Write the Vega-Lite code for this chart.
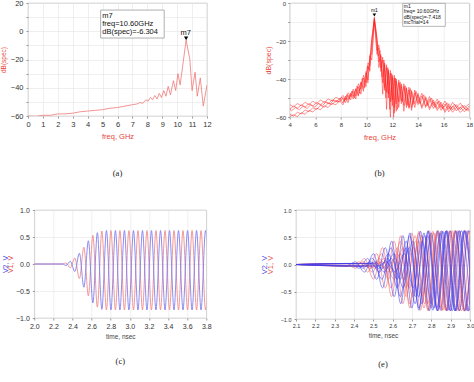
{
"$schema": "https://vega.github.io/schema/vega-lite/v6.json",
"padding": {"left": 0, "right": 0, "top": -2, "bottom": 0},
"background": "white",
"config": {
  "view": {"stroke": "#b5b5b5", "strokeWidth": 0.7},
  "axis": {"labelFont": "Liberation Sans", "titleFont": "Liberation Sans", "titleFontWeight": "normal", "gridColor": "#e4e4e4", "gridWidth": 0.6, "domain": false, "tickColor": "#999", "tickSize": 2, "labelColor": "#333", "labelPadding": 2, "labelFlush": false, "labelOverlap": false, "tickCount": 50},
  "title": {"font": "Liberation Serif", "fontSize": 8.5, "fontWeight": "normal", "color": "#222", "orient": "bottom", "anchor": "middle"}
},
"datasets": {
  "a": [
    {"f":0.0,"d":-60},{"f":0.5,"d":-60.2},{"f":1.0,"d":-59.5},{"f":1.5,"d":-59.5},{"f":2.0,"d":-58.5},{"f":2.5,"d":-58.5},{"f":3.0,"d":-58},{"f":3.5,"d":-57},{"f":4.0,"d":-56.5},{"f":4.5,"d":-56},{"f":5.0,"d":-55.5},{"f":5.5,"d":-54.5},{"f":6.0,"d":-54},{"f":6.5,"d":-53},{"f":7.0,"d":-52},{"f":7.3,"d":-51.5},{"f":7.5,"d":-50.5},{"f":7.7,"d":-51},{"f":7.9,"d":-48.5},{"f":8.05,"d":-49.5},{"f":8.2,"d":-47},{"f":8.35,"d":-48.5},{"f":8.5,"d":-45.5},{"f":8.65,"d":-48},{"f":8.8,"d":-44},{"f":8.95,"d":-47},{"f":9.1,"d":-42},{"f":9.25,"d":-46},{"f":9.4,"d":-39},{"f":9.55,"d":-45},{"f":9.75,"d":-35},{"f":9.9,"d":-42},{"f":10.05,"d":-30},{"f":10.2,"d":-38},{"f":10.6,"d":-6.3},{"f":10.85,"d":-20},{"f":11.0,"d":-42},{"f":11.2,"d":-29},{"f":11.35,"d":-46},{"f":11.55,"d":-33},{"f":11.75,"d":-53},{"f":12.0,"d":-38}
  ],
  "b": [
    {"k":1,"f":4.0,"d":-53.5},{"k":1,"f":4.3,"d":-54.7},{"k":1,"f":4.6,"d":-52.9},{"k":1,"f":4.9,"d":-54.1},{"k":1,"f":5.2,"d":-52.3},{"k":1,"f":5.5,"d":-53.5},{"k":1,"f":5.8,"d":-51.7},{"k":1,"f":6.1,"d":-52.9},{"k":1,"f":6.4,"d":-51.1},{"k":1,"f":6.7,"d":-52.3},{"k":1,"f":7.0,"d":-50.5},{"k":1,"f":7.3,"d":-51.5},{"k":1,"f":7.6,"d":-49.6},{"k":1,"f":7.9,"d":-50.7},{"k":1,"f":8.15,"d":-48.6},{"k":1,"f":8.35,"d":-51.0},{"k":1,"f":8.55,"d":-47.2},{"k":1,"f":8.75,"d":-49.3},{"k":1,"f":8.95,"d":-45.3},{"k":1,"f":9.15,"d":-49.0},{"k":1,"f":9.35,"d":-42.5},{"k":1,"f":9.55,"d":-45.5},{"k":1,"f":9.75,"d":-38},{"k":1,"f":9.95,"d":-42},{"k":1,"f":10.1,"d":-31.5},{"k":1,"f":10.25,"d":-33},{"k":1,"f":10.4,"d":-19},{"k":1,"f":10.6,"d":-7.4},{"k":1,"f":10.8,"d":-25},{"k":1,"f":10.95,"d":-22},{"k":1,"f":11.1,"d":-34},{"k":1,"f":11.25,"d":-28.5},{"k":1,"f":11.4,"d":-44.5},{"k":1,"f":11.55,"d":-32.5},{"k":1,"f":11.7,"d":-48},{"k":1,"f":11.85,"d":-35.5},{"k":1,"f":12.0,"d":-51},{"k":1,"f":12.15,"d":-38},{"k":1,"f":12.3,"d":-53},{"k":1,"f":12.5,"d":-40.5},{"k":1,"f":12.7,"d":-51.5},{"k":1,"f":12.9,"d":-42.5},{"k":1,"f":13.1,"d":-53.5},{"k":1,"f":13.3,"d":-44.3},{"k":1,"f":13.5,"d":-55},{"k":1,"f":13.75,"d":-45.8},{"k":1,"f":14.0,"d":-52.5},{"k":1,"f":14.3,"d":-47.5},{"k":1,"f":14.6,"d":-54.3},{"k":1,"f":14.9,"d":-49.2},{"k":1,"f":15.2,"d":-54},{"k":1,"f":15.5,"d":-50.6},{"k":1,"f":15.8,"d":-55.2},{"k":1,"f":16.1,"d":-51.6},{"k":1,"f":16.4,"d":-56},{"k":1,"f":16.7,"d":-52.3},{"k":1,"f":17.0,"d":-55},{"k":1,"f":17.3,"d":-52.7},{"k":1,"f":17.6,"d":-55.4},{"k":1,"f":18.0,"d":-53},
    {"k":2,"f":4.0,"d":-56.0},{"k":2,"f":4.3,"d":-54.2},{"k":2,"f":4.6,"d":-55.4},{"k":2,"f":4.9,"d":-53.6},{"k":2,"f":5.2,"d":-54.8},{"k":2,"f":5.5,"d":-53.0},{"k":2,"f":5.8,"d":-54.2},{"k":2,"f":6.1,"d":-52.4},{"k":2,"f":6.4,"d":-53.6},{"k":2,"f":6.7,"d":-51.8},{"k":2,"f":7.0,"d":-53.0},{"k":2,"f":7.3,"d":-51.0},{"k":2,"f":7.6,"d":-52.1},{"k":2,"f":7.9,"d":-50.2},{"k":2,"f":8.15,"d":-52.6},{"k":2,"f":8.35,"d":-49.0},{"k":2,"f":8.55,"d":-51.2},{"k":2,"f":8.75,"d":-47.3},{"k":2,"f":8.95,"d":-49.3},{"k":2,"f":9.15,"d":-45.0},{"k":2,"f":9.35,"d":-48.5},{"k":2,"f":9.55,"d":-41.5},{"k":2,"f":9.75,"d":-45},{"k":2,"f":9.95,"d":-36},{"k":2,"f":10.1,"d":-40.5},{"k":2,"f":10.25,"d":-27},{"k":2,"f":10.4,"d":-27},{"k":2,"f":10.6,"d":-8.5},{"k":2,"f":10.8,"d":-18},{"k":2,"f":10.95,"d":-31},{"k":2,"f":11.1,"d":-27},{"k":2,"f":11.25,"d":-42},{"k":2,"f":11.4,"d":-31.5},{"k":2,"f":11.55,"d":-47},{"k":2,"f":11.7,"d":-35},{"k":2,"f":11.85,"d":-52},{"k":2,"f":12.0,"d":-38},{"k":2,"f":12.15,"d":-55},{"k":2,"f":12.3,"d":-40},{"k":2,"f":12.5,"d":-52},{"k":2,"f":12.7,"d":-42.5},{"k":2,"f":12.9,"d":-54},{"k":2,"f":13.1,"d":-44.5},{"k":2,"f":13.3,"d":-55},{"k":2,"f":13.5,"d":-46},{"k":2,"f":13.75,"d":-53},{"k":2,"f":14.0,"d":-47.5},{"k":2,"f":14.3,"d":-54.5},{"k":2,"f":14.6,"d":-49.3},{"k":2,"f":14.9,"d":-55.2},{"k":2,"f":15.2,"d":-51},{"k":2,"f":15.5,"d":-55.6},{"k":2,"f":15.8,"d":-52.2},{"k":2,"f":16.1,"d":-56.6},{"k":2,"f":16.4,"d":-53},{"k":2,"f":16.7,"d":-56.3},{"k":2,"f":17.0,"d":-53.5},{"k":2,"f":17.3,"d":-56.2},{"k":2,"f":17.6,"d":-53.9},{"k":2,"f":18.0,"d":-56.5},
    {"k":3,"f":4.0,"d":-58.5},{"k":3,"f":4.3,"d":-59.5},{"k":3,"f":4.6,"d":-57.5},{"k":3,"f":4.9,"d":-58.4},{"k":3,"f":5.2,"d":-56.3},{"k":3,"f":5.5,"d":-57.2},{"k":3,"f":5.8,"d":-55.1},{"k":3,"f":6.1,"d":-56.0},{"k":3,"f":6.4,"d":-53.9},{"k":3,"f":6.7,"d":-54.8},{"k":3,"f":7.0,"d":-52.7},{"k":3,"f":7.3,"d":-53.5},{"k":3,"f":7.6,"d":-51.3},{"k":3,"f":7.9,"d":-52.1},{"k":3,"f":8.15,"d":-49.8},{"k":3,"f":8.35,"d":-52.5},{"k":3,"f":8.55,"d":-48.5},{"k":3,"f":8.75,"d":-51},{"k":3,"f":8.95,"d":-46.5},{"k":3,"f":9.15,"d":-50.5},{"k":3,"f":9.35,"d":-44},{"k":3,"f":9.55,"d":-48},{"k":3,"f":9.75,"d":-39.5},{"k":3,"f":9.95,"d":-44},{"k":3,"f":10.1,"d":-33},{"k":3,"f":10.25,"d":-36},{"k":3,"f":10.4,"d":-21},{"k":3,"f":10.6,"d":-9.0},{"k":3,"f":10.8,"d":-27},{"k":3,"f":10.95,"d":-23.5},{"k":3,"f":11.1,"d":-36},{"k":3,"f":11.25,"d":-30},{"k":3,"f":11.4,"d":-46},{"k":3,"f":11.55,"d":-34},{"k":3,"f":11.7,"d":-50},{"k":3,"f":11.85,"d":-37},{"k":3,"f":12.0,"d":-54},{"k":3,"f":12.15,"d":-39.5},{"k":3,"f":12.3,"d":-57},{"k":3,"f":12.5,"d":-42},{"k":3,"f":12.7,"d":-53},{"k":3,"f":12.9,"d":-44},{"k":3,"f":13.1,"d":-55},{"k":3,"f":13.3,"d":-45.8},{"k":3,"f":13.5,"d":-56.5},{"k":3,"f":13.75,"d":-47.3},{"k":3,"f":14.0,"d":-53.5},{"k":3,"f":14.3,"d":-49},{"k":3,"f":14.6,"d":-55},{"k":3,"f":14.9,"d":-50.7},{"k":3,"f":15.2,"d":-55.5},{"k":3,"f":15.5,"d":-52},{"k":3,"f":15.8,"d":-56.5},{"k":3,"f":16.1,"d":-53.2},{"k":3,"f":16.4,"d":-57.3},{"k":3,"f":16.7,"d":-54.2},{"k":3,"f":17.0,"d":-56.8},{"k":3,"f":17.3,"d":-54.7},{"k":3,"f":17.6,"d":-57.2},{"k":3,"f":18.0,"d":-55.3},
    {"k":4,"f":4.0,"d":-59.8},{"k":4,"f":4.3,"d":-58.8},{"k":4,"f":4.6,"d":-59.8},{"k":4,"f":4.9,"d":-57.7},{"k":4,"f":5.2,"d":-58.6},{"k":4,"f":5.5,"d":-56.5},{"k":4,"f":5.8,"d":-57.4},{"k":4,"f":6.1,"d":-55.3},{"k":4,"f":6.4,"d":-56.2},{"k":4,"f":6.7,"d":-54.1},{"k":4,"f":7.0,"d":-55.0},{"k":4,"f":7.3,"d":-52.8},{"k":4,"f":7.6,"d":-53.6},{"k":4,"f":7.9,"d":-51.4},{"k":4,"f":8.15,"d":-53.6},{"k":4,"f":8.35,"d":-50},{"k":4,"f":8.55,"d":-52.5},{"k":4,"f":8.75,"d":-48},{"k":4,"f":8.95,"d":-50.5},{"k":4,"f":9.15,"d":-45.5},{"k":4,"f":9.35,"d":-49},{"k":4,"f":9.55,"d":-42},{"k":4,"f":9.75,"d":-46.5},{"k":4,"f":9.95,"d":-37},{"k":4,"f":10.1,"d":-42},{"k":4,"f":10.25,"d":-28},{"k":4,"f":10.4,"d":-30},{"k":4,"f":10.6,"d":-10},{"k":4,"f":10.8,"d":-19.5},{"k":4,"f":10.95,"d":-34},{"k":4,"f":11.1,"d":-28},{"k":4,"f":11.25,"d":-48},{"k":4,"f":11.4,"d":-32.5},{"k":4,"f":11.55,"d":-56},{"k":4,"f":11.7,"d":-36},{"k":4,"f":11.85,"d":-60},{"k":4,"f":12.0,"d":-39},{"k":4,"f":12.15,"d":-58},{"k":4,"f":12.3,"d":-41},{"k":4,"f":12.5,"d":-55},{"k":4,"f":12.7,"d":-43.5},{"k":4,"f":12.9,"d":-57},{"k":4,"f":13.1,"d":-45},{"k":4,"f":13.3,"d":-55.5},{"k":4,"f":13.5,"d":-46.8},{"k":4,"f":13.75,"d":-55},{"k":4,"f":14.0,"d":-48.5},{"k":4,"f":14.3,"d":-55.5},{"k":4,"f":14.6,"d":-50.3},{"k":4,"f":14.9,"d":-56.2},{"k":4,"f":15.2,"d":-52},{"k":4,"f":15.5,"d":-56.6},{"k":4,"f":15.8,"d":-53.4},{"k":4,"f":16.1,"d":-57.6},{"k":4,"f":16.4,"d":-54.3},{"k":4,"f":16.7,"d":-57.5},{"k":4,"f":17.0,"d":-55},{"k":4,"f":17.3,"d":-57.6},{"k":4,"f":17.6,"d":-55.5},{"k":4,"f":18.0,"d":-57},
    {"k":5,"f":4.0,"d":-55.5},{"k":5,"f":4.15,"d":-56.8},{"k":5,"f":4.45,"d":-55.0},{"k":5,"f":4.75,"d":-56.2},{"k":5,"f":5.05,"d":-54.3},{"k":5,"f":5.35,"d":-55.5},{"k":5,"f":5.65,"d":-53.6},{"k":5,"f":5.95,"d":-54.8},{"k":5,"f":6.25,"d":-52.9},{"k":5,"f":6.55,"d":-54.0},{"k":5,"f":6.85,"d":-52.0},{"k":5,"f":7.15,"d":-53.2},{"k":5,"f":7.45,"d":-51.0},{"k":5,"f":7.75,"d":-52.2},{"k":5,"f":8.05,"d":-49.6},{"k":5,"f":8.25,"d":-51.8},{"k":5,"f":8.45,"d":-48.2},{"k":5,"f":8.65,"d":-50.5},{"k":5,"f":8.85,"d":-46.3},{"k":5,"f":9.05,"d":-50},{"k":5,"f":9.25,"d":-43.7},{"k":5,"f":9.45,"d":-47.5},{"k":5,"f":9.65,"d":-39.7},{"k":5,"f":9.85,"d":-44.5},{"k":5,"f":10.05,"d":-33.5},{"k":5,"f":10.2,"d":-35},{"k":5,"f":10.35,"d":-22},{"k":5,"f":10.6,"d":-8.0},{"k":5,"f":10.75,"d":-15.5},{"k":5,"f":10.9,"d":-28},{"k":5,"f":11.05,"d":-25},{"k":5,"f":11.2,"d":-39},{"k":5,"f":11.35,"d":-30},{"k":5,"f":11.5,"d":-50},{"k":5,"f":11.65,"d":-34},{"k":5,"f":11.8,"d":-56},{"k":5,"f":11.95,"d":-37},{"k":5,"f":12.1,"d":-60},{"k":5,"f":12.25,"d":-39.5},{"k":5,"f":12.4,"d":-56},{"k":5,"f":12.6,"d":-41.5},{"k":5,"f":12.8,"d":-52},{"k":5,"f":13.0,"d":-43.5},{"k":5,"f":13.2,"d":-54},{"k":5,"f":13.4,"d":-45},{"k":5,"f":13.6,"d":-53.5},{"k":5,"f":13.85,"d":-46.5},{"k":5,"f":14.15,"d":-53},{"k":5,"f":14.45,"d":-48.3},{"k":5,"f":14.75,"d":-54},{"k":5,"f":15.05,"d":-50},{"k":5,"f":15.35,"d":-55},{"k":5,"f":15.65,"d":-51.5},{"k":5,"f":15.95,"d":-55.8},{"k":5,"f":16.25,"d":-52.5},{"k":5,"f":16.55,"d":-56},{"k":5,"f":16.85,"d":-53.3},{"k":5,"f":17.15,"d":-56},{"k":5,"f":17.45,"d":-53.8},{"k":5,"f":17.75,"d":-56.3},{"k":5,"f":18.0,"d":-54}
  ],
  "c1": [
    {"t":2.0,"v":0},{"t":2.3,"v":0},{"t":2.330,"v":0.02},{"t":2.377,"v":-0.07},{"t":2.424,"v":0.11},{"t":2.472,"v":-0.27},{"t":2.519,"v":0.31},{"t":2.566,"v":-0.59},{"t":2.613,"v":0.53},{"t":2.660,"v":-0.80},{"t":2.707,"v":0.61},{"t":2.755,"v":-0.85},{"t":2.802,"v":0.62},{"t":2.849,"v":-0.85},{"t":2.896,"v":0.62},{"t":2.943,"v":-0.85},{"t":2.990,"v":0.62},{"t":3.038,"v":-0.85},{"t":3.085,"v":0.62},{"t":3.132,"v":-0.85},{"t":3.179,"v":0.62},{"t":3.226,"v":-0.85},{"t":3.273,"v":0.62},{"t":3.321,"v":-0.85},{"t":3.368,"v":0.62},{"t":3.415,"v":-0.85},{"t":3.462,"v":0.62},{"t":3.509,"v":-0.85},{"t":3.556,"v":0.62},{"t":3.604,"v":-0.85},{"t":3.651,"v":0.62},{"t":3.698,"v":-0.85},{"t":3.745,"v":0.62},{"t":3.792,"v":-0.85},{"t":3.839,"v":0.62}
  ],
  "c2": [
    {"t":2.0,"v":0},{"t":2.3,"v":0},{"t":2.330,"v":-0.03},{"t":2.377,"v":0.05},{"t":2.424,"v":-0.14},{"t":2.472,"v":0.20},{"t":2.519,"v":-0.43},{"t":2.566,"v":0.43},{"t":2.613,"v":-0.72},{"t":2.660,"v":0.58},{"t":2.707,"v":-0.84},{"t":2.755,"v":0.62},{"t":2.802,"v":-0.85},{"t":2.849,"v":0.62},{"t":2.896,"v":-0.85},{"t":2.943,"v":0.62},{"t":2.990,"v":-0.85},{"t":3.038,"v":0.62},{"t":3.085,"v":-0.85},{"t":3.132,"v":0.62},{"t":3.179,"v":-0.85},{"t":3.226,"v":0.62},{"t":3.273,"v":-0.85},{"t":3.321,"v":0.62},{"t":3.368,"v":-0.85},{"t":3.415,"v":0.62},{"t":3.462,"v":-0.85},{"t":3.509,"v":0.62},{"t":3.556,"v":-0.85},{"t":3.604,"v":0.62},{"t":3.651,"v":-0.85},{"t":3.698,"v":0.62},{"t":3.745,"v":-0.85},{"t":3.792,"v":0.62},{"t":3.839,"v":-0.85}
  ],
  "e1": [
    {"r":1,"t":2.1,"v":0},{"r":1,"t":2.360,"v":0.02},{"r":1,"t":2.407,"v":-0.07},{"r":1,"t":2.454,"v":0.11},{"r":1,"t":2.501,"v":-0.27},{"r":1,"t":2.548,"v":0.31},{"r":1,"t":2.595,"v":-0.59},{"r":1,"t":2.642,"v":0.53},{"r":1,"t":2.689,"v":-0.80},{"r":1,"t":2.736,"v":0.61},{"r":1,"t":2.783,"v":-0.85},{"r":1,"t":2.830,"v":0.62},{"r":1,"t":2.877,"v":-0.85},{"r":1,"t":2.924,"v":0.62},{"r":1,"t":2.971,"v":-0.85},{"r":1,"t":3.018,"v":0.62},
    {"r":2,"t":2.1,"v":0},{"r":2,"t":2.400,"v":-0.03},{"r":2,"t":2.448,"v":0.05},{"r":2,"t":2.496,"v":-0.14},{"r":2,"t":2.544,"v":0.20},{"r":2,"t":2.592,"v":-0.43},{"r":2,"t":2.640,"v":0.43},{"r":2,"t":2.688,"v":-0.72},{"r":2,"t":2.736,"v":0.58},{"r":2,"t":2.784,"v":-0.84},{"r":2,"t":2.832,"v":0.62},{"r":2,"t":2.880,"v":-0.85},{"r":2,"t":2.928,"v":0.62},{"r":2,"t":2.976,"v":-0.85},{"r":2,"t":3.024,"v":0.62},
    {"r":3,"t":2.1,"v":0},{"r":3,"t":2.440,"v":0.02},{"r":3,"t":2.486,"v":-0.07},{"r":3,"t":2.532,"v":0.11},{"r":3,"t":2.578,"v":-0.27},{"r":3,"t":2.624,"v":0.31},{"r":3,"t":2.670,"v":-0.59},{"r":3,"t":2.716,"v":0.53},{"r":3,"t":2.762,"v":-0.80},{"r":3,"t":2.808,"v":0.61},{"r":3,"t":2.854,"v":-0.85},{"r":3,"t":2.900,"v":0.62},{"r":3,"t":2.946,"v":-0.85},{"r":3,"t":2.992,"v":0.62},{"r":3,"t":3.038,"v":-0.85},
    {"r":4,"t":2.1,"v":0},{"r":4,"t":2.480,"v":-0.03},{"r":4,"t":2.528,"v":0.05},{"r":4,"t":2.575,"v":-0.14},{"r":4,"t":2.623,"v":0.20},{"r":4,"t":2.670,"v":-0.43},{"r":4,"t":2.718,"v":0.43},{"r":4,"t":2.765,"v":-0.72},{"r":4,"t":2.813,"v":0.58},{"r":4,"t":2.860,"v":-0.84},{"r":4,"t":2.908,"v":0.62},{"r":4,"t":2.955,"v":-0.85},{"r":4,"t":3.003,"v":0.62},
    {"r":5,"t":2.1,"v":0},{"r":5,"t":2.520,"v":0.02},{"r":5,"t":2.567,"v":-0.07},{"r":5,"t":2.613,"v":0.11},{"r":5,"t":2.660,"v":-0.27},{"r":5,"t":2.706,"v":0.31},{"r":5,"t":2.753,"v":-0.59},{"r":5,"t":2.799,"v":0.53},{"r":5,"t":2.846,"v":-0.80},{"r":5,"t":2.892,"v":0.61},{"r":5,"t":2.939,"v":-0.85},{"r":5,"t":2.985,"v":0.62},{"r":5,"t":3.032,"v":-0.85},
    {"r":6,"t":2.1,"v":0},{"r":6,"t":2.380,"v":-0.03},{"r":6,"t":2.426,"v":0.05},{"r":6,"t":2.471,"v":-0.14},{"r":6,"t":2.517,"v":0.20},{"r":6,"t":2.562,"v":-0.43},{"r":6,"t":2.608,"v":0.43},{"r":6,"t":2.653,"v":-0.72},{"r":6,"t":2.699,"v":0.58},{"r":6,"t":2.744,"v":-0.84},{"r":6,"t":2.790,"v":0.62},{"r":6,"t":2.835,"v":-0.85},{"r":6,"t":2.881,"v":0.62},{"r":6,"t":2.926,"v":-0.85},{"r":6,"t":2.972,"v":0.62},{"r":6,"t":3.017,"v":-0.85},
    {"r":7,"t":2.1,"v":0},{"r":7,"t":2.460,"v":0.02},{"r":7,"t":2.509,"v":-0.07},{"r":7,"t":2.557,"v":0.11},{"r":7,"t":2.606,"v":-0.27},{"r":7,"t":2.654,"v":0.31},{"r":7,"t":2.703,"v":-0.59},{"r":7,"t":2.751,"v":0.53},{"r":7,"t":2.800,"v":-0.80},{"r":7,"t":2.848,"v":0.61},{"r":7,"t":2.897,"v":-0.85},{"r":7,"t":2.945,"v":0.62},{"r":7,"t":2.994,"v":-0.85},{"r":7,"t":3.042,"v":0.62},
    {"r":8,"t":2.1,"v":0},{"r":8,"t":2.500,"v":-0.03},{"r":8,"t":2.547,"v":0.05},{"r":8,"t":2.594,"v":-0.14},{"r":8,"t":2.640,"v":0.20},{"r":8,"t":2.687,"v":-0.43},{"r":8,"t":2.734,"v":0.43},{"r":8,"t":2.781,"v":-0.72},{"r":8,"t":2.828,"v":0.58},{"r":8,"t":2.874,"v":-0.84},{"r":8,"t":2.921,"v":0.62},{"r":8,"t":2.968,"v":-0.85},{"r":8,"t":3.015,"v":0.62}
  ],
  "e2": [
    {"r":1,"t":2.1,"v":0},{"r":1,"t":2.360,"v":-0.03},{"r":1,"t":2.407,"v":0.05},{"r":1,"t":2.454,"v":-0.14},{"r":1,"t":2.501,"v":0.20},{"r":1,"t":2.548,"v":-0.43},{"r":1,"t":2.595,"v":0.43},{"r":1,"t":2.642,"v":-0.72},{"r":1,"t":2.689,"v":0.58},{"r":1,"t":2.736,"v":-0.84},{"r":1,"t":2.783,"v":0.62},{"r":1,"t":2.830,"v":-0.85},{"r":1,"t":2.877,"v":0.62},{"r":1,"t":2.924,"v":-0.85},{"r":1,"t":2.971,"v":0.62},{"r":1,"t":3.018,"v":-0.85},
    {"r":2,"t":2.1,"v":0},{"r":2,"t":2.400,"v":0.02},{"r":2,"t":2.448,"v":-0.07},{"r":2,"t":2.496,"v":0.11},{"r":2,"t":2.544,"v":-0.27},{"r":2,"t":2.592,"v":0.31},{"r":2,"t":2.640,"v":-0.59},{"r":2,"t":2.688,"v":0.53},{"r":2,"t":2.736,"v":-0.80},{"r":2,"t":2.784,"v":0.61},{"r":2,"t":2.832,"v":-0.85},{"r":2,"t":2.880,"v":0.62},{"r":2,"t":2.928,"v":-0.85},{"r":2,"t":2.976,"v":0.62},{"r":2,"t":3.024,"v":-0.85},
    {"r":3,"t":2.1,"v":0},{"r":3,"t":2.440,"v":-0.03},{"r":3,"t":2.486,"v":0.05},{"r":3,"t":2.532,"v":-0.14},{"r":3,"t":2.578,"v":0.20},{"r":3,"t":2.624,"v":-0.43},{"r":3,"t":2.670,"v":0.43},{"r":3,"t":2.716,"v":-0.72},{"r":3,"t":2.762,"v":0.58},{"r":3,"t":2.808,"v":-0.84},{"r":3,"t":2.854,"v":0.62},{"r":3,"t":2.900,"v":-0.85},{"r":3,"t":2.946,"v":0.62},{"r":3,"t":2.992,"v":-0.85},{"r":3,"t":3.038,"v":0.62},
    {"r":4,"t":2.1,"v":0},{"r":4,"t":2.480,"v":0.02},{"r":4,"t":2.528,"v":-0.07},{"r":4,"t":2.575,"v":0.11},{"r":4,"t":2.623,"v":-0.27},{"r":4,"t":2.670,"v":0.31},{"r":4,"t":2.718,"v":-0.59},{"r":4,"t":2.765,"v":0.53},{"r":4,"t":2.813,"v":-0.80},{"r":4,"t":2.860,"v":0.61},{"r":4,"t":2.908,"v":-0.85},{"r":4,"t":2.955,"v":0.62},{"r":4,"t":3.003,"v":-0.85},
    {"r":5,"t":2.1,"v":0},{"r":5,"t":2.520,"v":-0.03},{"r":5,"t":2.567,"v":0.05},{"r":5,"t":2.613,"v":-0.14},{"r":5,"t":2.660,"v":0.20},{"r":5,"t":2.706,"v":-0.43},{"r":5,"t":2.753,"v":0.43},{"r":5,"t":2.799,"v":-0.72},{"r":5,"t":2.846,"v":0.58},{"r":5,"t":2.892,"v":-0.84},{"r":5,"t":2.939,"v":0.62},{"r":5,"t":2.985,"v":-0.85},{"r":5,"t":3.032,"v":0.62},
    {"r":6,"t":2.1,"v":0},{"r":6,"t":2.380,"v":0.02},{"r":6,"t":2.426,"v":-0.07},{"r":6,"t":2.471,"v":0.11},{"r":6,"t":2.517,"v":-0.27},{"r":6,"t":2.562,"v":0.31},{"r":6,"t":2.608,"v":-0.59},{"r":6,"t":2.653,"v":0.53},{"r":6,"t":2.699,"v":-0.80},{"r":6,"t":2.744,"v":0.61},{"r":6,"t":2.790,"v":-0.85},{"r":6,"t":2.835,"v":0.62},{"r":6,"t":2.881,"v":-0.85},{"r":6,"t":2.926,"v":0.62},{"r":6,"t":2.972,"v":-0.85},{"r":6,"t":3.017,"v":0.62},
    {"r":7,"t":2.1,"v":0},{"r":7,"t":2.460,"v":-0.03},{"r":7,"t":2.509,"v":0.05},{"r":7,"t":2.557,"v":-0.14},{"r":7,"t":2.606,"v":0.20},{"r":7,"t":2.654,"v":-0.43},{"r":7,"t":2.703,"v":0.43},{"r":7,"t":2.751,"v":-0.72},{"r":7,"t":2.800,"v":0.58},{"r":7,"t":2.848,"v":-0.84},{"r":7,"t":2.897,"v":0.62},{"r":7,"t":2.945,"v":-0.85},{"r":7,"t":2.994,"v":0.62},{"r":7,"t":3.042,"v":-0.85},
    {"r":8,"t":2.1,"v":0},{"r":8,"t":2.500,"v":0.02},{"r":8,"t":2.547,"v":-0.07},{"r":8,"t":2.594,"v":0.11},{"r":8,"t":2.640,"v":-0.27},{"r":8,"t":2.687,"v":0.31},{"r":8,"t":2.734,"v":-0.59},{"r":8,"t":2.781,"v":0.53},{"r":8,"t":2.828,"v":-0.80},{"r":8,"t":2.874,"v":0.61},{"r":8,"t":2.921,"v":-0.85},{"r":8,"t":2.968,"v":0.62},{"r":8,"t":3.015,"v":-0.85}
  ]
},
"spacing": 27,
"vconcat": [
  {
    "hconcat": [
      {
        "width": 179, "height": 113,
        "title": {"text": "(a)", "offset": 29},
        "layer": [
          {"data": {"name": "a"}, "mark": {"type": "line", "color": "#f07878", "strokeWidth": 0.8, "clip": true},
           "encoding": {
             "x": {"field": "f", "type": "quantitative", "scale": {"domain": [0, 12], "nice": false, "zero": false},
                   "axis": {"values": [0,1,2,3,4,5,6,7,8,9,10,11,12], "format": "d", "tickCount": 50, "labelOverlap": false, "title": "freq, GHz", "titleColor": "#e8453c", "titleFontSize": 7.5, "labelFontSize": 7.5, "titlePadding": 5}},
             "y": {"field": "d", "type": "quantitative", "scale": {"domain": [-60, 20], "nice": false, "zero": false},
                   "axis": {"values": [-60,-50,-40,-30,-20,-10,0,10,20], "format": "d", "tickCount": 50, "labelOverlap": false, "labelExpr": "datum.value % 20 === 0 ? datum.label : ''", "title": "dB(spec)", "titleColor": "#e8453c", "titleFontSize": 6.5, "labelFontSize": 7.5, "labelPadding": 3, "titlePadding": 3.5}}
           }},
          {"data": {"values": [{"f": 4.87, "f2": 9.13, "d": 15, "d2": -4.8}]},
           "mark": {"type": "rect", "fill": "white", "stroke": "#9a9a9a", "strokeWidth": 0.8},
           "encoding": {"x": {"field": "f", "type": "quantitative"}, "x2": {"field": "f2"}, "y": {"field": "d", "type": "quantitative"}, "y2": {"field": "d2"}}},
          {"data": {"values": [{"f": 4.98, "d": 11.0, "l": "m7"}, {"f": 4.98, "d": 5.1, "l": "freq=10.60GHz"}, {"f": 4.98, "d": -0.7, "l": "dB(spec)=-6.304"}]},
           "mark": {"type": "text", "align": "left", "baseline": "middle", "font": "Liberation Sans", "fontSize": 7.5, "color": "#111"},
           "encoding": {"x": {"field": "f", "type": "quantitative"}, "y": {"field": "d", "type": "quantitative"}, "text": {"field": "l"}}},
          {"data": {"values": [{"f": 10.6, "d": -5.0}]},
           "mark": {"type": "point", "shape": "triangle-down", "filled": true, "color": "#000", "size": 18, "opacity": 1},
           "encoding": {"x": {"field": "f", "type": "quantitative"}, "y": {"field": "d", "type": "quantitative"}}},
          {"data": {"values": [{"f": 10.58, "d": -1.2, "l": "m7"}]},
           "mark": {"type": "text", "align": "center", "baseline": "middle", "font": "Liberation Sans", "fontSize": 7.5, "color": "#111"},
           "encoding": {"x": {"field": "f", "type": "quantitative"}, "y": {"field": "d", "type": "quantitative"}, "text": {"field": "l"}}}
        ]
      },
      {
        "width": 179.6, "height": 114,
        "title": {"text": "(b)", "offset": 28},
        "layer": [
          {"data": {"name": "b"}, "mark": {"type": "line", "color": "#ff1a1a", "strokeWidth": 0.6, "opacity": 0.8, "clip": true},
           "encoding": {
             "x": {"field": "f", "type": "quantitative", "scale": {"domain": [4, 18], "nice": false, "zero": false},
                   "axis": {"values": [4,6,8,10,12,14,16,18], "format": "d", "tickCount": 50, "labelOverlap": false, "title": "freq, GHz", "titleColor": "#e8453c", "titleFontSize": 7.5, "labelFontSize": 6, "titlePadding": 6}},
             "y": {"field": "d", "type": "quantitative", "scale": {"domain": [-60, 0], "nice": false, "zero": false},
                   "axis": {"values": [-60,-50,-40,-30,-20,-10,0], "format": "d", "tickCount": 50, "labelOverlap": false, "labelExpr": "datum.value % 20 === 0 ? datum.label : ''", "title": "dB(spec)", "titleColor": "#e8453c", "titleFontSize": 7, "labelFontSize": 6, "labelPadding": 2, "titlePadding": 4}},
             "detail": {"field": "k", "type": "nominal"}
           }},
          {"data": {"values": [{"f": 12.81, "f2": 16.13, "d": -0.2, "d2": -12.3}]},
           "mark": {"type": "rect", "fill": "white", "stroke": "#9a9a9a", "strokeWidth": 0.7},
           "encoding": {"x": {"field": "f", "type": "quantitative"}, "x2": {"field": "f2"}, "y": {"field": "d", "type": "quantitative"}, "y2": {"field": "d2"}}},
          {"data": {"values": [{"f": 12.89, "d": -1.5, "l": "m1"}, {"f": 12.89, "d": -4.4, "l": "freq= 10.60GHz"}, {"f": 12.89, "d": -7.3, "l": "dB(spec)=-7.418"}, {"f": 12.89, "d": -10.2, "l": "mcTrial=14"}]},
           "mark": {"type": "text", "align": "left", "baseline": "middle", "font": "Liberation Sans", "fontSize": 5, "color": "#111"},
           "encoding": {"x": {"field": "f", "type": "quantitative"}, "y": {"field": "d", "type": "quantitative"}, "text": {"field": "l"}}},
          {"data": {"values": [{"f": 10.6, "d": -6.3}]},
           "mark": {"type": "point", "shape": "triangle-down", "filled": true, "color": "#000", "size": 12, "opacity": 1},
           "encoding": {"x": {"field": "f", "type": "quantitative"}, "y": {"field": "d", "type": "quantitative"}}},
          {"data": {"values": [{"f": 10.6, "d": -3.6, "l": "m1"}]},
           "mark": {"type": "text", "align": "center", "baseline": "middle", "font": "Liberation Sans", "fontSize": 5, "color": "#111"},
           "encoding": {"x": {"field": "f", "type": "quantitative"}, "y": {"field": "d", "type": "quantitative"}, "text": {"field": "l"}}}
        ]
      }
    ],
    "spacing": 51.7
  },
  {
    "hconcat": [
      {"width": 1, "height": 1, "view": {"stroke": null, "fill": null}, "data": {"values": []}, "mark": {"type": "point", "opacity": 0}},
      {
        "hconcat": [
          {
            "width": 172, "height": 108,
            "title": {"text": "(c)", "offset": 17},
            "layer": [
              {"data": {"name": "c1"}, "mark": {"type": "line", "color": "#f28b8b", "strokeWidth": 0.9, "interpolate": "monotone", "clip": true},
               "encoding": {
                 "x": {"field": "t", "type": "quantitative", "scale": {"domain": [2.0, 3.8], "nice": false, "zero": false},
                       "axis": {"values": [2.0,2.2,2.4,2.6,2.8,3.0,3.2,3.4,3.6,3.8], "tickCount": 50, "labelOverlap": false, "format": ".1f", "title": "time, nsec", "titleColor": "#444", "titleFontSize": 6.5, "labelFontSize": 7, "titlePadding": 4}},
                 "y": {"field": "v", "type": "quantitative", "scale": {"domain": [-1, 1], "nice": false, "zero": false},
                       "axis": {"values": [-1,-0.5,0,0.5,1], "tickCount": 50, "labelOverlap": false, "format": ".1f", "title": "V1, V", "titleColor": "#e84a4a", "titleFontSize": 7, "labelFontSize": 7, "labelPadding": 3, "titlePadding": 2}}
               }},
              {"data": {"name": "c2"}, "mark": {"type": "line", "color": "#7f7ff2", "strokeWidth": 0.9, "interpolate": "monotone", "clip": true},
               "encoding": {
                 "x": {"field": "t", "type": "quantitative"},
                 "y": {"field": "v", "type": "quantitative",
                       "axis": {"orient": "left", "offset": 26, "labels": false, "ticks": false, "domain": false, "grid": false, "title": "V2, V", "titleColor": "#4a4ae8", "titleFontSize": 7, "titlePadding": 0}}
               }}
            ],
            "resolve": {"axis": {"y": "independent"}}
          },
          {
            "width": 174, "height": 109,
            "title": {"text": "(e)", "offset": 21},
            "layer": [
              {"data": {"name": "e1"}, "mark": {"type": "line", "color": "#f06060", "strokeWidth": 0.7, "opacity": 0.8, "interpolate": "monotone", "clip": true},
               "encoding": {
                 "x": {"field": "t", "type": "quantitative", "scale": {"domain": [2.1, 3.0], "nice": false, "zero": false},
                       "axis": {"values": [2.1,2.2,2.3,2.4,2.5,2.6,2.7,2.8,2.9,3.0], "tickCount": 50, "labelOverlap": false, "format": ".1f", "title": "time, nsec", "titleColor": "#444", "titleFontSize": 6.5, "labelFontSize": 5.5, "titlePadding": 4}},
                 "y": {"field": "v", "type": "quantitative", "scale": {"domain": [-1, 1], "nice": false, "zero": false},
                       "axis": {"values": [-1,-0.5,0,0.5,1], "tickCount": 50, "labelOverlap": false, "format": ".1f", "title": "V1, V", "titleColor": "#e84a4a", "titleFontSize": 7.5, "labelFontSize": 5.5, "labelPadding": 3, "titlePadding": 6}},
                 "detail": {"field": "r", "type": "nominal"}
               }},
              {"data": {"name": "e2"}, "mark": {"type": "line", "color": "#3d3dee", "strokeWidth": 0.7, "opacity": 0.8, "interpolate": "monotone", "clip": true},
               "encoding": {
                 "x": {"field": "t", "type": "quantitative"},
                 "y": {"field": "v", "type": "quantitative",
                       "axis": {"orient": "left", "offset": 28, "labels": false, "ticks": false, "domain": false, "grid": false, "title": "V2, V", "titleColor": "#4a4ae8", "titleFontSize": 7.5, "titlePadding": 0}},
                 "detail": {"field": "r", "type": "nominal"}
               }}
            ],
            "resolve": {"axis": {"y": "independent"}}
          }
        ],
        "spacing": 46.7
      }
    ],
    "spacing": -28.7
  }
]
}
